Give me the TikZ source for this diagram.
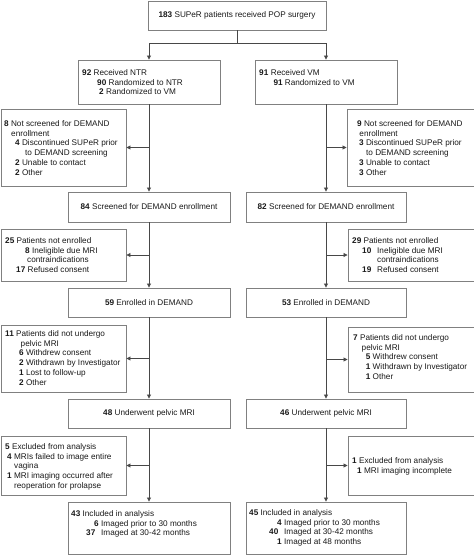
\documentclass[tikz,border=0pt]{standalone}
\usepackage{fontspec}
\setmainfont{Liberation Sans}
\usetikzlibrary{arrows.meta}
\newcommand\Lx[4]{\setbox0\hbox{\textbf{#2}\ }\dimen0=\dimexpr#1pt+\wd0\relax\ifdim\dimen0<#3pt\dimen0=#3pt\fi\makebox[0pt][l]{\hspace*{#1pt}\textbf{#2}}\hspace*{\dimen0}#4}
\begin{document}
\begin{tikzpicture}[x=1pt,y=-1pt,
  box/.style={draw=black!50,line width=0.9pt,rectangle,inner sep=0pt,
    font=\fontsize{8.2}{9.9}\selectfont,text=black!90},
  txt/.style={anchor=north west,inner sep=0pt,align=left,
    font=\fontsize{8.2}{9.9}\selectfont,text=black!90},
  conn/.style={draw=black!72,line width=0.8pt},
  arr/.style={conn,-{Triangle[length=4pt,width=4pt]}}
]
\useasboundingbox (0,0) rectangle (474,555);
% ---------- boxes ----------
\node[box,minimum width=178pt,minimum height=29pt] (top) at (237,15.5) {\textbf{183} SUPeR patients received POP surgery};
\node[box,minimum width=142pt,minimum height=44pt] (NTR) at (149,82) {};
\node[box,minimum width=142pt,minimum height=44pt] (VM) at (326,82) {};
\node[box,minimum width=125pt,minimum height=77pt] (L1) at (63.5,147.5) {};
\node[box,minimum width=129pt,minimum height=77pt] (R1) at (411.5,147.5) {};
\node[box,minimum width=162pt,minimum height=30pt] (LS) at (149,207) {\textbf{84} Screened for DEMAND enrollment};
\node[box,minimum width=160pt,minimum height=30pt] (RS) at (326,207) {\textbf{82} Screened for DEMAND enrollment};
\node[box,minimum width=125pt,minimum height=52pt] (L2) at (63.5,255) {};
\node[box,minimum width=128pt,minimum height=52pt] (R2) at (412,255) {};
\node[box,minimum width=162pt,minimum height=29pt] (LE) at (149,302.5) {\textbf{59} Enrolled in DEMAND};
\node[box,minimum width=160pt,minimum height=29pt] (RE) at (326,302.5) {\textbf{53} Enrolled in DEMAND};
\node[box,minimum width=125pt,minimum height=67pt] (L3) at (63.5,358.5) {};
\node[box,minimum width=128pt,minimum height=65pt] (R3) at (412,359.5) {};
\node[box,minimum width=162pt,minimum height=29pt] (LU) at (149,413.5) {\textbf{48} Underwent pelvic MRI};
\node[box,minimum width=160pt,minimum height=29pt] (RU) at (326,413.5) {\textbf{46} Underwent pelvic MRI};
\node[box,minimum width=125pt,minimum height=59pt] (L4) at (63.5,465.5) {};
\node[box,minimum width=128pt,minimum height=59pt] (R4) at (412,465.5) {};
\node[box,minimum width=162pt,minimum height=52pt] (LF) at (149,528) {};
\node[box,minimum width=160pt,minimum height=52pt] (RF) at (326,528) {};
% ---------- texts ----------
\node[txt] (NTRt) at (82,69) {\Lx{0}{92}{11.5}{Received NTR}\\\Lx{15}{90}{24}{Randomized to NTR}\\\Lx{17}{2}{24}{Randomized to VM}};
\node[txt] (VMt) at (259,69) {\Lx{0}{91}{11.7}{Received VM}\\\Lx{14.3}{91}{23.7}{Randomized to VM}};
\node[txt] (L1t) at (4,120) {\Lx{0}{8}{6}{Not screened for DEMAND}\\\Lx{0}{}{7}{enrollment}\\\Lx{11}{4}{15}{Discontinued SUPeR prior}\\\Lx{0}{}{21}{to DEMAND screening}\\\Lx{11}{2}{15}{Unable to contact}\\\Lx{11}{2}{15}{Other}};
\node[txt] (R1t) at (357,120) {\Lx{0}{9}{5.5}{Not screened for DEMAND}\\\Lx{0}{}{2}{enrollment}\\\Lx{2}{3}{8}{Discontinued SUPeR prior}\\\Lx{0}{}{9}{to DEMAND screening}\\\Lx{2}{3}{8}{Unable to contact}\\\Lx{2}{3}{8}{Other}};
\node[txt] (L2t) at (5,237) {\Lx{0}{25}{10}{Patients not enrolled}\\\Lx{20}{8}{24.5}{Ineligible due MRI}\\\Lx{0}{}{22}{contraindications}\\\Lx{11}{17}{20.5}{Refused consent}};
\node[txt] (R2t) at (352,237) {\Lx{0}{29}{10}{Patients not enrolled}\\\Lx{10}{10}{25}{Ineligible due MRI}\\\Lx{0}{}{25}{contraindications}\\\Lx{10}{19}{25}{Refused consent}};
\node[txt] (L3t) at (5,330) {\Lx{0}{11}{10}{Patients did not undergo}\\\Lx{0}{}{15.5}{pelvic MRI}\\\Lx{14}{6}{19.3}{Withdrew consent}\\\Lx{14}{2}{19.3}{Withdrawn by Investigator}\\\Lx{14}{1}{19.3}{Lost to follow-up}\\\Lx{14}{2}{19.3}{Other}};
\node[txt] (R3t) at (353,334) {\Lx{0}{7}{6.7}{Patients did not undergo}\\\Lx{0}{}{8.5}{pelvic MRI}\\\Lx{12.7}{5}{19.3}{Withdrew consent}\\\Lx{12.7}{1}{19.3}{Withdrawn by Investigator}\\\Lx{12.7}{1}{19.3}{Other}};
\node[txt] (L4t) at (5,443) {\Lx{0}{5}{6}{Excluded from analysis}\\\Lx{2}{4}{7}{MRIs failed to image entire}\\\Lx{0}{}{9}{vagina}\\\Lx{2}{1}{7}{MRI imaging occurred after}\\\Lx{0}{}{9}{reoperation for prolapse}};
\node[txt] (R4t) at (352,457) {\Lx{0}{1}{5}{Excluded from analysis}\\\Lx{5}{1}{10}{MRI imaging incomplete}};
\node[txt] (LFt) at (71,510) {\Lx{0}{43}{11}{Included in analysis}\\\Lx{23}{6}{30}{Imaged prior to 30 months}\\\Lx{15}{37}{30}{Imaged at 30-42 months}};
\node[txt] (RFt) at (249,509) {\Lx{0}{45}{10}{Included in analysis}\\\Lx{28}{4}{35}{Imaged prior to 30 months}\\\Lx{20}{40}{35}{Imaged at 30-42 months}\\\Lx{28}{1}{35}{Imaged at 48 months}};
% ---------- connectors ----------
\coordinate (split) at (237,43);
\draw[conn] (top.south) -- (split);
\draw[arr] (split) -| (NTR.north);
\draw[arr] (split) -| (VM.north);
% left column
\draw[arr] (NTR.south) -- (LS.north);
\draw[arr] (NTR.south |- L1.east) -- (L1.east);
\draw[arr] (LS.south) -- (LE.north);
\draw[arr] (LS.south |- L2.east) -- (L2.east);
\draw[arr] (LE.south) -- (LU.north);
\draw[arr] (LE.south |- L3.east) -- (L3.east);
\draw[arr] (LU.south) -- (LF.north);
\draw[arr] (LU.south |- L4.east) -- (L4.east);
% right column
\draw[arr] (VM.south) -- (RS.north);
\draw[arr] (VM.south |- R1.west) -- (R1.west);
\draw[arr] (RS.south) -- (RE.north);
\draw[arr] (RS.south |- R2.west) -- (R2.west);
\draw[arr] (RE.south) -- (RU.north);
\draw[arr] (RE.south |- R3.west) -- (R3.west);
\draw[arr] (RU.south) -- (RF.north);
\draw[arr] (RU.south |- R4.west) -- (R4.west);
\end{tikzpicture}
\end{document}
